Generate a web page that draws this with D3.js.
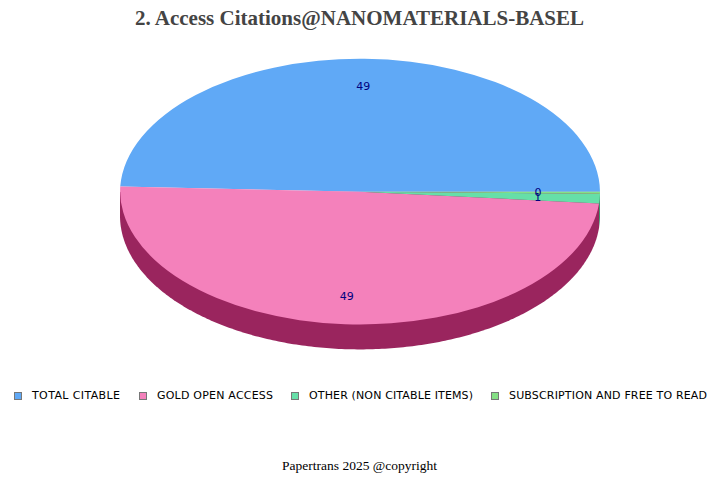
<!DOCTYPE html>
<html><head><meta charset="utf-8">
<script src="https://cdn.jsdelivr.net/npm/d3@7/dist/d3.min.js"></script>
<style>html,body{margin:0;padding:0;background:#fff}svg{display:block}</style>
</head><body><svg id="c" width="720" height="480"></svg>
<script>
const categories = ["TOTAL CITABLE","GOLD OPEN ACCESS","OTHER (NON CITABLE ITEMS)","SUBSCRIPTION AND FREE TO READ"];
const values = [49.4,49.2,1.15,0.25];
const colors = ["#60a9f6","#f481bb","#66dfa8","#85e085"];
const sideColors = ["#2f5c8c","#9a255e","#2f8a60","#3f8a3f"];
const titleText = "2. Access Citations@NANOMATERIALS-BASEL";
const footerText = "Papertrans 2025 @copyright";
const legendX = [14,139,291,491];
const legendW = [88,116,164,198];

const W=720,H=480,cx=360,cy=191.7,rx=240,ry=133.7,depth=24;
const svg=d3.select("#c");
const pie=d3.pie().value(d=>d).sort(null).startAngle(Math.PI/2).endAngle(Math.PI/2-2*Math.PI);
const arcs=pie(values);
const px=d3.scaleLinear().domain([-1,1]).range([cx-rx,cx+rx]);
const py=d3.scaleLinear().domain([-1,1]).range([cy-ry,cy+ry]);
// Side wall
const wall=svg.append("g");
arcs.forEach((a,i)=>{
  const lo=Math.min(a.startAngle,a.endAngle),hi=Math.max(a.startAngle,a.endAngle);
  const pts=[];
  for(let k=0;k<=240;k++){
    const t=lo+(hi-lo)*k/240;
    const norm=((t%(2*Math.PI))+2*Math.PI)%(2*Math.PI);
    if(norm>=Math.PI/2&&norm<=3*Math.PI/2) pts.push(t);
  }
  if(!pts.length) return;
  const area=d3.area().x(t=>px(Math.sin(t))).y0(cy).y1(t=>py(-Math.cos(t))+depth);
  wall.append("path").attr("d",area(pts)).attr("fill",sideColors[i]);
});
// Top
const arcGen=d3.arc().innerRadius(0).outerRadius(1);
svg.append("g").attr("transform",`translate(${cx},${cy}) scale(${rx},${ry})`)
  .selectAll("path").data(arcs).join("path").attr("d",arcGen).attr("fill",(d,i)=>colors[i]);
// Labels
const lx=178,ly=105;
svg.append("g").selectAll("text").data(arcs).join("text")
  .attr("x",d=>cx+lx*Math.sin((d.startAngle+d.endAngle)/2)-(d.value>40&&Math.sin((d.startAngle+d.endAngle)/2)<-0.02?2:0))
  .attr("y",d=>cy-ly*Math.cos((d.startAngle+d.endAngle)/2)+3.5)
  .attr("text-anchor","middle").attr("font-family","DejaVu Sans").attr("font-size",11).attr("fill","#000080")
  .text(d=>Math.round(d.value));
// Title
svg.append("text").attr("x",359.5).attr("y",25).attr("text-anchor","middle")
  .attr("font-family","Liberation Serif").attr("font-weight","bold").attr("font-size",21).attr("fill","#444")
  .text(titleText);
// Legend
const lg=svg.append("g").selectAll("g").data(categories).join("g").attr("transform",(d,i)=>`translate(${legendX[i]},392)`);
lg.append("rect").attr("width",7).attr("height",7).attr("x",.5).attr("y",.5).attr("fill",(d,i)=>colors[i]).attr("stroke","#777");
lg.append("text").attr("x",18).attr("y",7).attr("font-family","DejaVu Sans").attr("font-size",11).attr("fill","#000")
  .attr("textLength",(d,i)=>legendW[i]).attr("lengthAdjust","spacing").text(d=>d);
// Footer
svg.append("text").attr("x",359.5).attr("y",470).attr("text-anchor","middle").attr("font-family","Liberation Serif").attr("font-size",13.5).attr("fill","#000").text(footerText);
</script></body></html>
